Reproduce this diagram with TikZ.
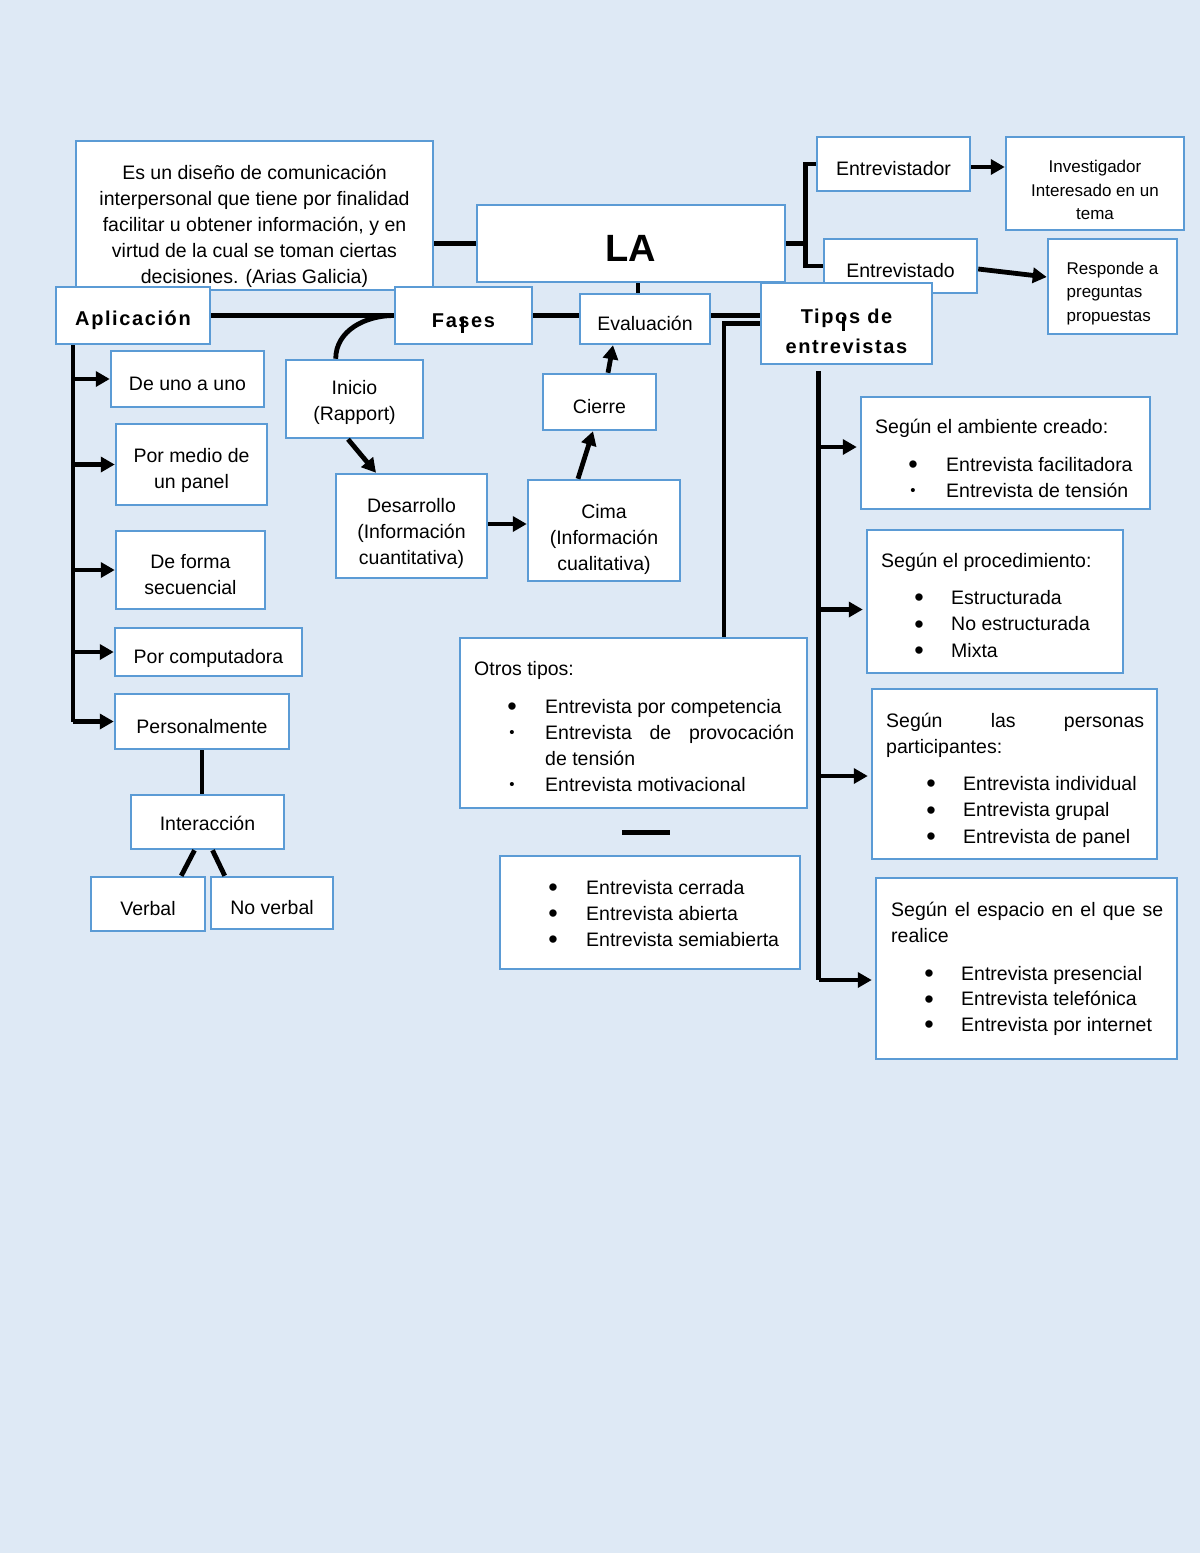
\documentclass[tikz,border=0pt]{standalone}
\usepackage{fontspec}
\setmainfont{Liberation Sans}
\usetikzlibrary{arrows.meta}
\definecolor{pagebg}{HTML}{DEE9F5}
\definecolor{boxline}{HTML}{5B9BD5}
\newcommand{\bodyfont}{\fontsize{19.5}{26}\selectfont}
\newcommand{\smallfont}{\fontsize{17}{23.5}\selectfont}
\newcommand{\titlefont}{\bfseries\addfontfeatures{LetterSpace=8}\fontsize{20}{30}\selectfont}
\newcommand{\bigdot}{\raisebox{-2.5pt}{\fontsize{27}{27}\selectfont\textbullet}}
\newcommand{\smalldot}{\raisebox{1.5pt}{\fontsize{15}{15}\selectfont\textbullet}}

\tikzset{
  box/.style={draw=boxline, line width=2.5pt, fill=white, inner sep=0pt, align=center, font=\bodyfont, text height=24pt},
  title/.style={font=\titlefont},
  item/.style={anchor=base west, inner sep=0pt, font=\bodyfont},
  dot/.style={anchor=base, inner sep=0pt, font=\bodyfont},
  link/.style={line width=4.8pt, black},
  arr/.style={link, -{Triangle[length=14pt,width=15pt]}},
}

\begin{document}
\begin{tikzpicture}[x=1pt, y=-1pt]
  % Page background
  \fill[pagebg] (0,0) rectangle (1200,1553);
  \useasboundingbox (0,0) rectangle (1200,1553);

  % === DEFINITION AND CENTRE ===
  \node[box, minimum width=357pt, minimum height=149pt] (defbox) at (254.5,215.5) {};
  \node[font=\bodyfont, align=center, inner sep=0pt] (deftext) at (254.5,226)
    {Es un diseño de comunicación\\ interpersonal que tiene por finalidad\\ facilitar u obtener información, y en\\ virtud de la cual se toman ciertas\\ decisiones. (Arias Galicia)};
  \node[box, minimum width=308pt, minimum height=77pt, font=\bfseries\fontsize{38}{40}\selectfont, text height=35pt] (la) at (631,243.5) {LA};

  % === TOP ROW ===
  \node[box, minimum width=153pt, minimum height=54pt] (entr1) at (893.5,164) {Entrevistador};
  \node[box, minimum width=153pt, minimum height=54pt] (entr2) at (900.5,266) {Entrevistado};
  \node[box, minimum width=178pt, minimum height=93pt, font=\smallfont, text height=73pt] (invest) at (1095,183.5)
    {Investigador\\ Interesado en un\\ tema};
  \node[box, minimum width=129pt, minimum height=95pt, font=\smallfont, align=left, text height=73pt] (resp) at (1112.5,286.5)
    {Responde a\\ preguntas\\ propuestas};
  \node[box, title, minimum width=154pt, minimum height=57pt] (aplic) at (133,315.5) {Aplicación};
  \node[box, title, minimum width=137pt, minimum height=57pt] (fases) at (463.5,315.5) {Fases};
  \node[box, minimum width=130pt, minimum height=50pt] (eval) at (645,319) {Evaluación};
  \node[box, title, minimum width=171pt, minimum height=81pt, text height=60pt] (tipos) at (846.5,323.5) {Tipos de\\ entrevistas};

  % === APLICACION ===
  \node[box, minimum width=153pt, minimum height=56pt] (de1) at (187.5,379) {De uno a uno};
  \node[box, minimum width=151pt, minimum height=81pt, text height=52pt] (panel) at (191.5,464.5) {Por medio de\\ un panel};
  \node[box, minimum width=149pt, minimum height=78pt, text height=50pt] (secu) at (190.5,570) {De forma\\ secuencial};
  \node[box, minimum width=187pt, minimum height=48pt, text height=28pt] (comp) at (208.5,652) {Por computadora};
  \node[box, minimum width=174pt, minimum height=55pt] (pers) at (202,721.5) {Personalmente};
  \node[box, minimum width=153pt, minimum height=54pt, text height=18pt] (inter) at (207.5,822) {Interacción};
  \node[box, minimum width=114pt, minimum height=54pt] (verbal) at (148,904) {Verbal};
  \node[box, minimum width=122pt, minimum height=52pt] (nverbal) at (272,903) {No verbal};

  % === FASES ===
  \node[box, minimum width=137pt, minimum height=78pt, text height=48pt] (inicio) at (354.5,399) {Inicio\\ (Rapport)};
  \node[box, minimum width=151pt, minimum height=104pt, text height=82pt] (desa) at (411.5,526) {Desarrollo\\ (Información\\ cuantitativa)};
  \node[box, minimum width=152pt, minimum height=101pt, text height=84pt] (cima) at (604,530.5) {Cima\\ (Información\\ cualitativa)};
  \node[box, minimum width=113pt, minimum height=56pt] (cierre) at (599.5,402) {Cierre};

  % === TIPOS ===
  \node[box, minimum width=289pt, minimum height=112pt] (amb) at (1005.5,453) {};
  \node[item] (ambh) at (875,433) {Según el ambiente creado:};
  \foreach \t/\b [count=\i] in {Entrevista facilitadora/\bigdot, Entrevista de tensión/\smalldot} {
    \node[dot] (ambd\i) at (913,445+26*\i) {\b};
    \node[item] (amb\i) at (946,445+26*\i) {\t};
  }

  \node[box, minimum width=256pt, minimum height=143pt] (proc) at (995,601.5) {};
  \node[item] (proch) at (881,567) {Según el procedimiento:};
  \foreach \t [count=\i] in {Estructurada, No estructurada, Mixta} {
    \node[dot] (procd\i) at (919,577.5+26.5*\i) {\bigdot};
    \node[item] (proc\i) at (951,577.5+26.5*\i) {\t};
  }

  \node[box, minimum width=285pt, minimum height=170pt] (persn) at (1014.5,774) {};
  \node[item] (persnh) at (886,727) {\makebox[258pt][l]{Según\hfill las\hfill personas}};
  \node[item] (persnh2) at (886,753) {participantes:};
  \foreach \t [count=\i] in {Entrevista individual, Entrevista grupal, Entrevista de panel} {
    \node[dot] (persnd\i) at (931,763.5+26.5*\i) {\bigdot};
    \node[item] (persn\i) at (963,763.5+26.5*\i) {\t};
  }

  \node[box, minimum width=301pt, minimum height=181pt] (esp) at (1026.5,968.5) {};
  \node[item] (esph) at (891,916) {\makebox[272pt][l]{Según\hfill el\hfill espacio\hfill en\hfill el\hfill que\hfill se}};
  \node[item] (esph2) at (891,942) {realice};
  \foreach \t [count=\i] in {Entrevista presencial, Entrevista telefónica, Entrevista por internet} {
    \node[dot] (espd\i) at (929,954.5+25.5*\i) {\bigdot};
    \node[item] (esp\i) at (961,954.5+25.5*\i) {\t};
  }

  \node[box, minimum width=347pt, minimum height=170pt] (otros) at (633.5,723) {};
  \node[item] (otrosh) at (474,675) {Otros tipos:};
  \node[dot] (otrosd1) at (512,713) {\bigdot};
  \node[item] (otros1) at (545,713) {Entrevista por competencia};
  \node[dot] (otrosd2) at (512,739) {\smalldot};
  \node[item] (otros2) at (545,739) {\makebox[249pt][l]{Entrevista\hfill de\hfill provocación}};
  \node[item] (otros2b) at (545,765) {de tensión};
  \node[dot] (otrosd3) at (512,791) {\smalldot};
  \node[item] (otros3) at (545,791) {Entrevista motivacional};

  \node[box, minimum width=300pt, minimum height=113pt] (cerr) at (650,912.5) {};
  \foreach \t [count=\i] in {Entrevista cerrada, Entrevista abierta, Entrevista semiabierta} {
    \node[dot] (cerrd\i) at (553,868+26*\i) {\bigdot};
    \node[item] (cerr\i) at (586,868+26*\i) {\t};
  }

  % === CONNECTORS ===
  \coordinate (labus) at ([xshift=19pt]la.east);
  \coordinate (abus) at ([xshift=-60pt]aplic.south);
  \coordinate (tbus) at ([xshift=-28pt,yshift=-6pt]tipos.south);
  \coordinate (obus) at ([xshift=90.5pt]otros.north);

  \draw[link] (la.west) -- (la.west -| defbox.east);
  \draw[link] (la.east) -- (labus);
  \draw[link] (entr1.west) -| (labus |- entr2.west) -- (entr2.west);
  \draw[arr] ([yshift=-3pt]entr1.east) -- ([yshift=-3pt]entr1.east -| invest.west);
  \draw[arr] ([yshift=-3pt]entr2.east) -- ([yshift=9.5pt]resp.west);
  \draw[link] ([xshift=7pt]la.south) -- ([xshift=-7pt]eval.north);

  \draw[link] (aplic.east) -- (fases.west);
  \draw[link] (fases.east) -- (fases.east -| eval.west);
  \draw[link] (eval.east |- fases.east) -- (fases.east -| tipos.west);
  \draw[link] (tipos.west) -| (obus);

  % aplicacion branches
  \draw[link] (abus) -- (abus |- pers.west);
  \foreach \b in {de1, panel, secu, comp} {
    \draw[arr] (abus |- \b.west) -- (\b.west);
  }
  \draw[arr] (abus |- pers.west) -- (pers.west);
  \draw[link] (pers.south) -- (pers.south |- inter.north);
  \draw[link] ([xshift=-13pt]inter.south) -- ([xshift=-25pt]verbal.north east);
  \draw[link] ([xshift=5pt]inter.south) -- ([xshift=15pt]nverbal.north west);

  % phases cycle
  \draw[link] (fases.west) to[out=180, in=90] (inicio.115);
  \draw[arr] ([xshift=-6.5pt]inicio.south) -- ([xshift=-35.5pt]desa.north);
  \draw[arr] ([yshift=2pt]desa.east) -- ([yshift=2pt]desa.east -| cima.west);
  \draw[arr] ([xshift=-26pt]cima.north) -- ([xshift=-6.5pt]cierre.south);
  \draw[arr] ([xshift=8.5pt]cierre.north) -- ([xshift=-32pt]eval.south);

  % tipos branches
  \draw[link] (tbus) -- (tbus |- 0,980);
  \foreach \b/\s in {amb/6, proc/-8, persn/-2} {
    \draw[arr] ([yshift=\s pt]tbus |- \b.west) -- ([yshift=\s pt, xshift=-3pt]\b.west);
  }
  \draw[arr] (tbus |- 0,980) -- ([xshift=-3pt]esp.west |- 0,980);

  % stray marks
  \draw[line width=5pt] (622,832) -- (670,832);
  \draw[line width=3pt] (462,317) -- (462,333);
  \draw[line width=3pt] (843,317) -- (843,331);
\end{tikzpicture}
\end{document}
